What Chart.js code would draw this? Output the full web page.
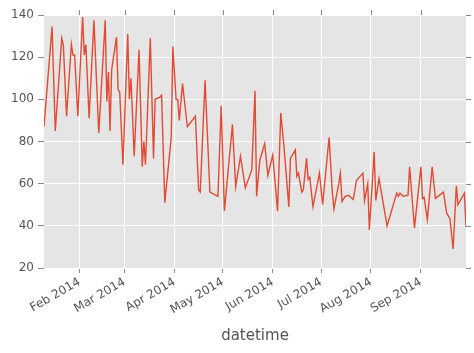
<!DOCTYPE html>
<html>
<head>
<meta charset="utf-8">
<script src="https://cdn.jsdelivr.net/npm/chart.js@4"></script>
<style>
	html, body { margin: 0; padding: 0; background: #fff; }
	#wrap { width: 474px; height: 353px; }
</style>
</head>
<body>
<div id="wrap"><canvas id="chart" width="474" height="353"></canvas></div>
<script>
// sample dates and values
const dates = [
	'2014-01-10','2014-01-15','2014-01-17','2014-01-21','2014-01-22','2014-01-24','2014-01-27','2014-01-28','2014-01-29','2014-01-31',
	'2014-02-03','2014-02-04','2014-02-05','2014-02-07','2014-02-10','2014-02-13','2014-02-17','2014-02-18','2014-02-19','2014-02-20',
	'2014-02-21','2014-02-24','2014-02-25','2014-02-26','2014-02-28','2014-03-03','2014-03-04','2014-03-05','2014-03-07','2014-03-10',
	'2014-03-12','2014-03-13','2014-03-14','2014-03-17','2014-03-19','2014-03-20','2014-03-23','2014-03-24','2014-03-26','2014-03-30',
	'2014-03-31','2014-04-02','2014-04-03','2014-04-04','2014-04-06','2014-04-09','2014-04-11','2014-04-14','2014-04-16','2014-04-17',
	'2014-04-20','2014-04-23','2014-04-28','2014-04-30','2014-05-02','2014-05-07','2014-05-09','2014-05-12','2014-05-15','2014-05-19',
	'2014-05-21','2014-05-22','2014-05-24','2014-05-27','2014-05-29','2014-06-01','2014-06-04','2014-06-06','2014-06-08','2014-06-11',
	'2014-06-12','2014-06-15','2014-06-16','2014-06-17','2014-06-19','2014-06-20','2014-06-22','2014-06-23','2014-06-24','2014-06-26',
	'2014-06-30','2014-07-02','2014-07-06','2014-07-08','2014-07-09','2014-07-12','2014-07-13','2014-07-14','2014-07-16','2014-07-18',
	'2014-07-21','2014-07-23','2014-07-27','2014-07-28','2014-07-30','2014-07-31','2014-08-03','2014-08-04','2014-08-06','2014-08-11',
	'2014-08-17','2014-08-18','2014-08-19','2014-08-21','2014-08-24','2014-08-25','2014-08-28','2014-09-01','2014-09-02','2014-09-03',
	'2014-09-05','2014-09-08','2014-09-10','2014-09-15','2014-09-17','2014-09-19','2014-09-21','2014-09-23','2014-09-24','2014-09-28',
	'2014-09-29'
];
const values = [
	87, 134.5, 85, 129, 126, 92, 126, 121, 121, 92,
	139, 121, 126, 91, 137.5, 84, 137.5, 99, 113, 85,
	114, 129.5, 104.5, 103.5, 69, 131, 100, 110, 73, 123.5,
	68, 80, 69, 129, 72, 100, 101, 102, 51, 82,
	125, 100, 100, 90, 107.5, 87, 89, 92, 57, 56,
	109, 56, 54, 97, 47, 88, 58.5, 73, 58, 66.5,
	104, 54, 71, 79, 64, 73.5, 47, 93.5, 77.5, 49,
	72, 76, 63.5, 65, 56, 57, 72, 62, 63, 49,
	65, 50, 82, 56, 48, 60, 65, 51.5, 54, 54.5,
	52.5, 61.5, 65, 52, 60, 38, 75, 52, 62.5, 40,
	55.5, 54, 55.5, 54, 54.5, 68, 39, 68, 53, 53.5,
	43, 68, 53, 56, 46, 43.5, 29, 59, 50, 55.5,
	39.5
];
const monthTicks = ['2014-02-01','2014-03-01','2014-04-01','2014-05-01','2014-06-01','2014-07-01','2014-08-01','2014-09-01'];
const monthLabels = ['Feb 2014','Mar 2014','Apr 2014','May 2014','Jun 2014','Jul 2014','Aug 2014','Sep 2014'];
const yTicks = [20, 40, 60, 80, 100, 120, 140];

function dayOf(s) {
	const [y, m, d] = s.split('-').map(Number);
	return (Date.UTC(y, m - 1, d) - Date.UTC(2014, 0, 1)) / 86400000;
}

const points = dates.map((d, i) => ({ x: dayOf(d), y: values[i] }));
const tickDays = monthTicks.map(dayOf);

const FONT = 'DejaVu Sans';
const TXT = '#555555';
const TICKCOL = '#8a8a8a';

// gray panel behind grid + the tick marks on top and right side
const panel = {
	id: 'panel',
	beforeDraw(chart) {
		const { ctx, chartArea: a } = chart;
		ctx.save();
		ctx.fillStyle = '#E5E5E5';
		ctx.fillRect(a.left, a.top, a.right - a.left, a.bottom - a.top);
		ctx.restore();
	},
	afterDraw(chart) {
		const { ctx, chartArea: a, scales } = chart;
		ctx.save();
		ctx.strokeStyle = TICKCOL;
		ctx.lineWidth = 1;
		ctx.beginPath();
		tickDays.forEach(v => {
			const x = Math.round(scales.x.getPixelForValue(v)) + 0.5;
			ctx.moveTo(x, a.top); ctx.lineTo(x, a.top - 5);
		});
		yTicks.forEach(v => {
			const y = Math.round(scales.y.getPixelForValue(v)) + 0.5;
			ctx.moveTo(a.right, y); ctx.lineTo(a.right + 5, y);
		});
		ctx.stroke();
		ctx.restore();
	}
};

new Chart(document.getElementById('chart'), {
	type: 'line',
	data: {
		datasets: [{
			data: points,
			borderColor: '#E24A33',
			borderWidth: 1.4,
			pointRadius: 0,
			tension: 0,
			fill: false
		}]
	},
	options: {
		responsive: false,
		animation: false,
		layout: { padding: { top: 15, right: 8, left: 0, bottom: 0 } },
		plugins: { legend: { display: false }, tooltip: { enabled: false } },
		scales: {
			x: {
				type: 'linear',
				min: points[0].x,
				max: points[points.length - 1].x,
				afterBuildTicks: s => { s.ticks = tickDays.map(v => ({ value: v })); },
				afterFit: s => { s.height = 85; },
				grid: { color: '#ffffff', lineWidth: 1, tickColor: TICKCOL, tickLength: 5, drawTicks: true },
				border: { display: false },
				ticks: {
					autoSkip: false,
					minRotation: 30,
					maxRotation: 30,
					padding: 2,
					color: TXT,
					font: { family: FONT, size: 12 },
					callback: v => monthLabels[tickDays.indexOf(v)] || ''
				},
				title: {
					display: true,
					text: 'datetime',
					color: TXT,
					font: { family: FONT, size: 15 },
					padding: { top: 0, bottom: 8 }
				}
			},
			y: {
				min: 20,
				max: 140,
				afterBuildTicks: s => { s.ticks = yTicks.map(v => ({ value: v })); },
				afterFit: s => { s.width = 44; },
				grid: { color: '#ffffff', lineWidth: 1, tickColor: TICKCOL, tickLength: 6, drawTicks: true },
				border: { display: false },
				ticks: {
					padding: 4,
					color: TXT,
					font: { family: FONT, size: 12 }
				}
			}
		}
	},
	plugins: [panel]
});
</script>
</body>
</html>
